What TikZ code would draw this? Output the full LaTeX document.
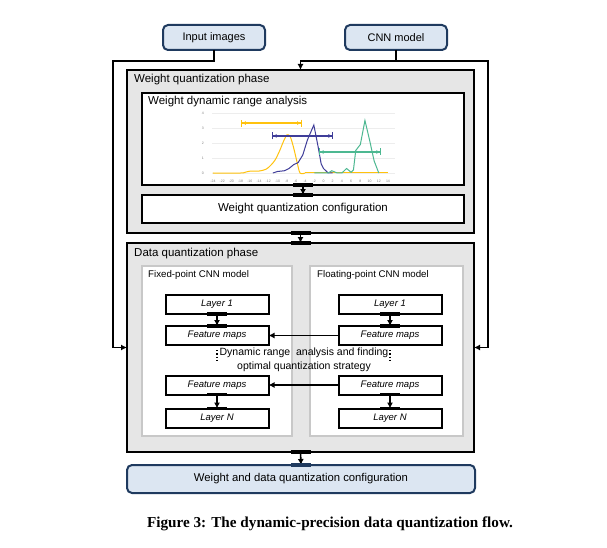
\documentclass[tikz,border=0pt]{standalone}
\usepackage{fontspec}
\setmainfont{Liberation Sans}
\newfontfamily\capfont{Liberation Serif}
\usetikzlibrary{arrows.meta}
\definecolor{navy}{HTML}{1F3A5F}
\definecolor{lightblue}{HTML}{DCE6F2}
\definecolor{phasegray}{HTML}{E6E6E6}
\definecolor{subgray}{HTML}{C8C8C8}
\definecolor{gridgray}{HTML}{EDEDED}
\definecolor{wyellow}{HTML}{FFC20E}
\definecolor{wblue}{HTML}{3F3D99}
\definecolor{wgreen}{HTML}{4DB891}
\tikzset{
  io/.style={draw=navy, line width=2pt, fill=lightblue, rounded corners=5pt, inner sep=0pt, outer sep=0pt},
  phase/.style={draw, line width=2.5pt, fill=phasegray, inner sep=0pt, outer sep=0pt},
  stepbox/.style={draw, line width=2pt, fill=white, inner sep=0pt, outer sep=0pt},
  model/.style={draw=subgray, line width=2pt, fill=white, inner sep=0pt, outer sep=0pt},
  layer/.style={stepbox, minimum width=103pt, minimum height=19pt, font=\fontsize{9.5}{11}\selectfont\itshape},
  conn/.style={line width=1.6pt, -{Latex[length=6pt,width=6pt]}},
  joint/.style={line width=3.5pt},
  title/.style={anchor=west, inner sep=0pt},
  tick/.style={inner sep=0pt, text=gray, font=\fontsize{3.5}{4}\selectfont},
  spanbar/.style={line width=1.3pt, {Bar[width=7pt]Latex[length=3.5pt,width=4pt]}-{Latex[length=3.5pt,width=4pt]Bar[width=7pt]}},
}
\begin{document}
\begin{tikzpicture}[x=1pt, y=-1pt]
  \useasboundingbox (0,0) rectangle (607,548);
  \node[io, minimum width=102pt, minimum height=25pt, font=\fontsize{11}{13}\selectfont] (inp) at (214,37.5) {Input images};
  \node[io, minimum width=102pt, minimum height=25pt, font=\fontsize{11}{13}\selectfont] (cnn) at (396,37.5) {CNN model};
  \coordinate (lbend) at (113,61);
  \coordinate (rbend) at (488,61);

  \node[phase, minimum width=347pt, minimum height=163pt] (wphase) at (300.5,151.5) {};
  \node[title, font=\fontsize{11.5}{13}\selectfont] (wtitle) at (134,80) {Weight quantization phase};
  \node[stepbox, minimum width=322pt, minimum height=92pt] (wdra) at (303,139) {};
  \node[title, font=\fontsize{11.5}{13}\selectfont] (wdratitle) at (148,102) {Weight dynamic range analysis};
  \node[stepbox, minimum width=322pt, minimum height=28pt, font=\fontsize{11.5}{13}\selectfont] (wconf) at (303,209) {Weight quantization configuration};

  \begin{scope}[shift={(323.5,173)}, xscale=4.605, yscale=-15]
    \foreach \i in {0,...,4} {
      \draw[gridgray, line width=0.5pt] (-24.2,\i) -- (15.5,\i);
      \node[tick] at (-26.2,\i) {\i};
    }
    \foreach \v in {-24,-22,...,14}
      \node[tick] at (\v,-0.53) {\v};
    \draw[wyellow, line width=1pt, smooth, tension=0.5] plot coordinates {(-24,0) (-18,0) (-17,0.05) (-16,0.12) (-14,0.13) (-12.5,0.25) (-11.5,0.5) (-10.5,0.87) (-9.5,1.5) (-8.7,2.1) (-7.9,2.55) (-7.2,2.4) (-6.5,1.7) (-5.8,0.8) (-5.1,0) (-4,0)};
    \draw[wyellow, line width=1pt] (-4,0) -- (14,0);
    \draw[wblue, line width=1pt] (-11,0) -- (-10,0.1) -- (-8.5,0.15) -- (-7.5,0.3) -- (-6.5,0.55) -- (-5.5,0.7) -- (-4.5,1.2) -- (-3.5,2.2) -- (-2.1,3.2) -- (-1.2,1.8) -- (-0.5,0.6) -- (0,0.3) -- (1,0) -- (2,0);
    \draw[wgreen, line width=1pt] (-2,0) -- (1,0) -- (1.8,0.15) -- (2.6,0.05) -- (3,0) -- (4,0) -- (5,0.3) -- (6,0.05) -- (6.5,0.2) -- (7,1.5) -- (8,1.9) -- (9,3.5) -- (10,2.2) -- (11,0.8) -- (12,0);
    \draw[spanbar, wyellow] (-17.9,3.33) -- (-4.7,3.33);
    \draw[spanbar, wblue] (-11.2,2.47) -- (2.1,2.47);
    \draw[spanbar, wgreen] (-1,1.4) -- (12.5,1.4);
  \end{scope}

  \node[phase, minimum width=347pt, minimum height=209pt] (dphase) at (300.5,347.5) {};
  \node[title, font=\fontsize{11.5}{13}\selectfont] (dtitle) at (134,254) {Data quantization phase};
  \node[model, minimum width=150pt, minimum height=170pt] (fixed) at (217,351) {};
  \node[model, minimum width=153pt, minimum height=170pt] (float) at (386.5,351) {};
  \node[title, font=\fontsize{9.7}{11}\selectfont] (fixedtitle) at (148,275) {Fixed-point CNN model};
  \node[title, font=\fontsize{9.7}{11}\selectfont] (floattitle) at (317,275) {Floating-point CNN model};

  \node[layer] (layL1) at (217,304.5) {Layer 1};
  \node[layer] (fmL1) at (217,335.5) {Feature maps};
  \node[layer] (fmL2) at (217,385) {Feature maps};
  \node[layer] (layLN) at (217,418) {Layer N};
  \node[layer] (layR1) at (390,304.5) {Layer 1};
  \node[layer] (fmR1) at (390,335.5) {Feature maps};
  \node[layer] (fmR2) at (390,385) {Feature maps};
  \node[layer] (layRN) at (390,418) {Layer N};
  \node[align=center, inner sep=0pt, font=\fontsize{10.5}{14}\selectfont] (strategy) at (304,360) {Dynamic range~ analysis and finding\\optimal quantization strategy};
  \draw[dotted, line width=1.3pt] ([yshift=-5pt]fmL1.south) -- ++(0,13);
  \draw[dotted, line width=1.3pt] ([yshift=-5pt]fmR1.south) -- ++(0,13);

  \node[io, minimum width=348pt, minimum height=28pt, font=\fontsize{11.3}{13}\selectfont] (final) at (301,479) {Weight and data quantization configuration};

  \draw[conn] (inp.south) |- (lbend) |- (dphase.west);
  \draw[conn] (cnn.south) |- (rbend) |- (dphase.east);
  \draw[conn] (cnn.south |- rbend) -| (wphase.north);
  \draw[conn] (wdra.south) -- (wconf.north);
  \draw[conn] (wphase.south) -- (dphase.north);
  \draw[conn] (dphase.south) -- (final.north);
  \draw[conn] (layL1) -- (fmL1);
  \draw[conn] (fmL2) -- (layLN);
  \draw[conn] (layR1) -- (fmR1);
  \draw[conn] (fmR2) -- (layRN);
  \draw[conn] (fmR1.west) -- (fmL1.east);
  \draw[conn] (fmR2.west) -- (fmL2.east);
  \foreach \p in {wdra.south, wconf.north, wphase.south, dphase.north, dphase.south, layL1.south, fmL1.north, fmL2.south, layLN.north, layR1.south, fmR1.north, fmR2.south, layRN.north}
    \draw[joint] ([xshift=-10pt]\p) -- ([xshift=10pt]\p);
  \draw[joint, navy] ([xshift=-10pt]final.north) -- ([xshift=10pt]final.north);

  \node[inner sep=0pt, font=\capfont\bfseries\fontsize{15.2}{17}\selectfont] (caption) at (330,524) {Figure 3: The dynamic-precision data quantization flow.};
\end{tikzpicture}
\end{document}
